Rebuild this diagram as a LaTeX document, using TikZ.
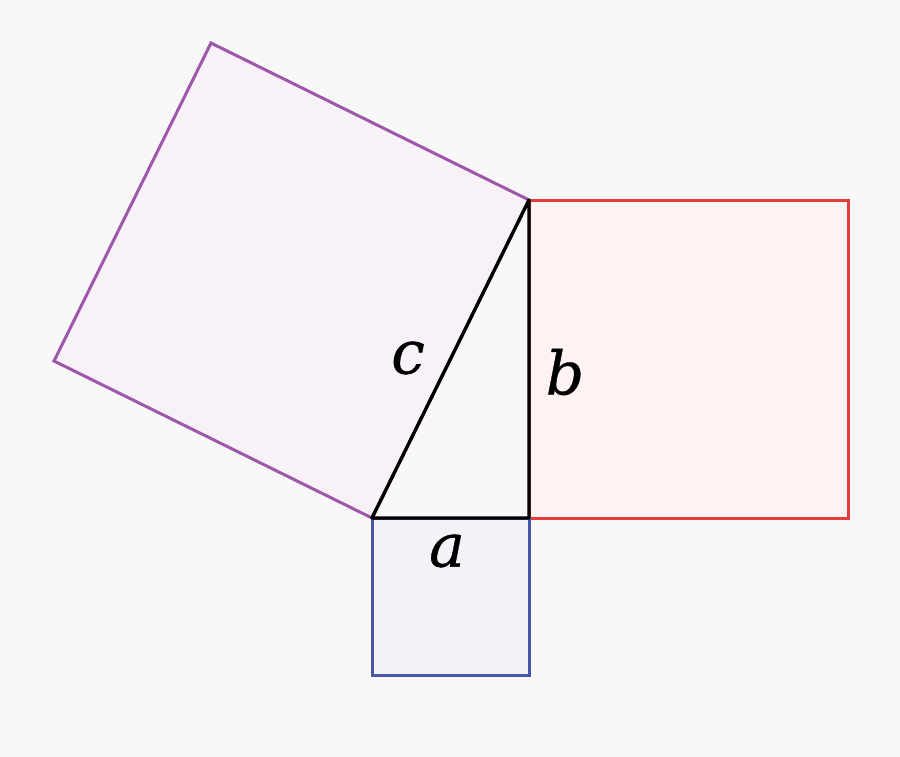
\documentclass[tikz,border=0pt]{standalone}
\usepackage{fontspec}
\setmainfont{DejaVu Serif}
\newfontfamily\lblfont[FakeBold=0.6]{DejaVu Serif Italic}
\definecolor{bg}{HTML}{F8F8F8}
\definecolor{pstroke}{HTML}{9E58AA}
\definecolor{pfill}{HTML}{F8F1F8}
\definecolor{rstroke}{HTML}{E83C3C}
\definecolor{rfill}{HTML}{FFF2F2}
\definecolor{bstroke}{HTML}{4757AC}
\definecolor{bfill}{HTML}{F1F3F8}
\tikzset{
  sq/.style={line width=3pt, line join=miter},
  tri/.style={line width=3.4pt, black, line join=round},
  lbl/.style={font=\fontsize{60}{62}\lblfont, inner sep=0pt}
}
\begin{document}
\begin{tikzpicture}[x=1pt,y=-1pt]
\fill[bg] (0,0) rectangle (900,757);
\useasboundingbox (0,0) rectangle (900,757);
\coordinate (A) at (372,518);
\coordinate (B) at (529,518);
\coordinate (C) at (529,200);
\coordinate (P1) at (211,43);
\coordinate (P2) at (54,361);
\coordinate (R1) at (848,200);
\coordinate (R2) at (848,518);
\coordinate (Q1) at (529,675);
\coordinate (Q2) at (372,675);
\draw[sq, pstroke, fill=pfill] (A) -- (C) -- (P1) -- (P2) -- cycle;
\draw[sq, rstroke, fill=rfill] (C) -- (R1) -- (R2) -- (B) -- cycle;
\draw[sq, bstroke, fill=bfill] (A) -- (B) -- (Q1) -- (Q2) -- cycle;
\fill[bg] (A) -- (B) -- (C) -- cycle;
\draw[tri] (A) -- (B) -- (C) -- cycle;
\node[lbl] (lc) at (408,358) {c};
\node[lbl] (lb) at (565,372) {b};
\node[lbl] (la) at (447,551) {a};
\end{tikzpicture}
\end{document}
